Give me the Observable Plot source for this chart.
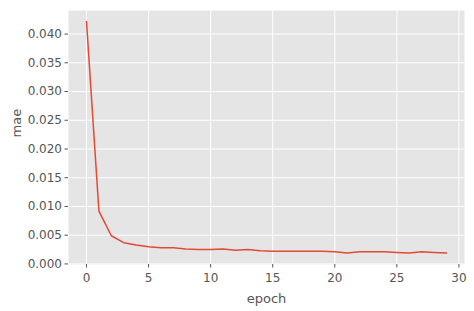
<!DOCTYPE html>
<html><head><meta charset="utf-8">
<script src="https://cdn.jsdelivr.net/npm/d3@7"></script>
<script src="https://cdn.jsdelivr.net/npm/@observablehq/plot@0.6"></script>
<style>body{margin:0;background:#fff}</style>
</head><body><div id="chart"></div>
<script>
const epochs = [0,1,2,3,4,5,6,7,8,9,10,11,12,13,14,15,16,17,18,19,20,21,22,23,24,25,26,27,28,29];
const mae = [0.0422,0.0092,0.0049,0.0037,0.0033,0.0030,0.0028,0.0028,0.0026,0.0025,0.0025,0.0026,0.0024,0.0025,0.0023,0.0022,0.0022,0.0022,0.0022,0.0022,0.0021,0.0019,0.0021,0.0021,0.0021,0.0020,0.0019,0.0021,0.0020,0.0019];
const xTicks = [0,5,10,15,20,25,30];
const yTicks = [0,0.005,0.01,0.015,0.02,0.025,0.03,0.035,0.04];
const data = epochs.map((e,i)=>({epoch:e, mae:mae[i]}));

const chart = Plot.plot({
  width: 474, height: 311,
  marginLeft: 68, marginRight: 10, marginTop: 10, marginBottom: 47,
  style: {fontFamily: "DejaVu Sans", fontSize: "12px", color: "#555", background: "#fff"},
  x: {domain: [-1.45, 30.45], ticks: xTicks, label: null},
  y: {domain: [-0.0001, 0.0441], ticks: yTicks, label: null},
  marks: [
    Plot.frame({fill: "#E5E5E5", stroke: null}),
    Plot.gridX(xTicks, {stroke: "#fff", strokeOpacity: 1, strokeWidth: 1}),
    Plot.gridY(yTicks, {stroke: "#fff", strokeOpacity: 1, strokeWidth: 1}),
    Plot.axisX(xTicks, {tickSize: 3.5, tickPadding: 5, stroke: "#555", fill: "#555", fontSize: 12}),
    Plot.axisY(yTicks, {tickSize: 3.5, tickPadding: 3, stroke: "#555", fill: "#555", fontSize: 12, tickFormat: d3.format(".3f")}),
    Plot.line(data, {x: "epoch", y: "mae", stroke: "#E24A33", strokeWidth: 1.5}),
    Plot.text(["epoch"], {frameAnchor: "bottom", dy: 38, lineAnchor: "bottom", fontSize: 13, fill: "#555"}),
    Plot.text(["mae"], {frameAnchor: "left", dx: -52, rotate: -90, fontSize: 13, fill: "#555"})
  ]
});
document.getElementById("chart").append(chart);
</script></body></html>
